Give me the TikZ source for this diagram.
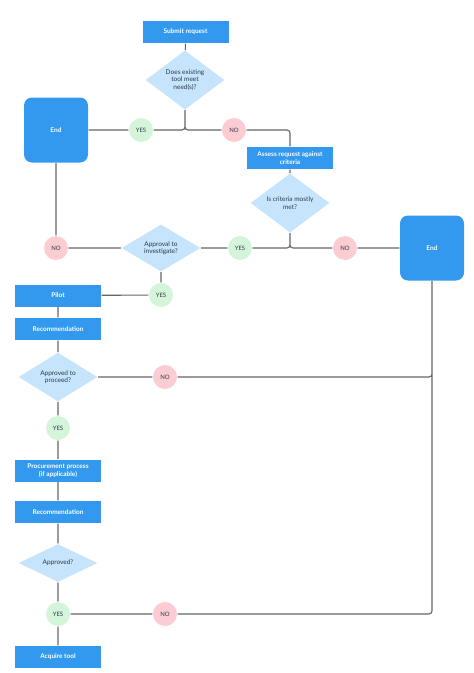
\documentclass[tikz,border=0pt]{standalone}
\usepackage{fontspec}
\setmainfont{Lato}
\usetikzlibrary{shapes.geometric}

\definecolor{boxblue}{HTML}{3399EE}
\definecolor{diamblue}{HTML}{C6E4FC}
\definecolor{yesgreen}{HTML}{D5F5DA}
\definecolor{nopink}{HTML}{FBCDD2}
\definecolor{linegray}{HTML}{666666}
\definecolor{textdark}{HTML}{2B3A4A}

\begin{document}
\begin{tikzpicture}[x=1pt,y=-1pt,line width=1.1pt,draw=linegray,
                    process/.style={rectangle,fill=boxblue,text=white,
                      font=\fontsize{6.5}{7.5}\selectfont\bfseries,align=center,
                      minimum width=86pt,minimum height=22pt,inner sep=0pt},
                    decision/.style={diamond,fill=diamblue,text=textdark,
                      font=\fontsize{6.5}{7.5}\selectfont,align=center,
                      minimum width=79pt,minimum height=38pt,inner sep=0pt},
                    endbox/.style={rectangle,rounded corners=8pt,fill=boxblue,text=white,
                      font=\fontsize{6.5}{7.5}\selectfont\bfseries,
                      minimum width=64pt,minimum height=65pt},
                    yes/.style={circle,fill=yesgreen,text=textdark,
                      font=\fontsize{6}{7}\selectfont,minimum size=24pt,inner sep=0pt},
                    no/.style={circle,fill=nopink,text=textdark,
                      font=\fontsize{6}{7}\selectfont,minimum size=24pt,inner sep=0pt}]

  \useasboundingbox (0,0) rectangle (474,673);
  \fill[white] (0,0) rectangle (474,673);

  % first check
  \node[process]                             (submit)  at (185.5,32)  {Submit request};
  \node[decision,minimum height=44pt]        (exists)  at (185,80)    {Does existing\\tool meet\\need(s)?};
  \node[endbox]                              (endL)    at (56,130)    {End};
  \node[yes]                                 (yesA)    at (141,130)   {YES};
  \node[no]                                  (noA)     at (234,130)   {NO};
  \node[process]                             (assess)  at (290,158)   {Assess request against\\criteria};
  \node[decision]                            (criteria) at (290,203)  {Is criteria mostly\\met?};

  % investigation
  \node[yes]                                 (yesB)    at (240,248)   {YES};
  \node[no]                                  (noB)     at (345,248)   {NO};
  \node[endbox]                              (endR)    at (432,248)   {End};
  \node[decision]                            (invest)  at (161,248)   {Approval to\\investigate?};
  \node[no]                                  (noC)     at (56,248)    {NO};
  \node[yes]                                 (yesC)    at (161,295)   {YES};
  \node[process]                             (pilot)   at (58,295.5)  {Pilot};
  \node[process]                             (recA)    at (58,329)    {Recommendation};
  \node[decision]                            (proceed) at (58,377)    {Approved to\\proceed?};
  \node[no]                                  (noD)     at (165,377)   {NO};
  \node[yes]                                 (yesD)    at (58,428)    {YES};

  % procurement
  \node[process]                             (procure) at (58,470.5)  {Procurement process\\(if applicable)};
  \node[process]                             (recB)    at (58,512)    {Recommendation};
  \node[decision]                            (approved) at (58,563)   {Approved?};
  \node[yes]                                 (yesE)    at (58,614)    {YES};
  \node[no]                                  (noE)     at (165,614)   {NO};
  \node[process]                             (acquire) at (58,657)    {Acquire tool};

  \path[draw] (submit) -- (exists)
        (yesA) -- (endL)
        (assess) -- (criteria)
        (yesB) -- (invest)
        (noB) -- (endR)
        (invest) -- (noC)
        (noC) -- (endL)
        (invest) -- (yesC)
        (yesC) -- (pilot)
        (pilot) -- (recA)
        (recA) -- (proceed)
        (proceed) -- (noD)
        (proceed) -- (yesD)
        (yesD) -- (procure)
        (procure) -- (recB)
        (recB) -- (approved)
        (approved) -- (yesE)
        (yesE) -- (acquire)
        (yesE) -- (noE);

  \path[draw,rounded corners=3pt]
        (exists.south) |- (yesA)
        (exists.south) |- (noA)
        (noA) -| (assess.north)
        (criteria.south) |- (yesB)
        (criteria.south) |- (noB)
        (noD) -| (endR.south)
        (noE) -| (endR.south);
\end{tikzpicture}
\end{document}
